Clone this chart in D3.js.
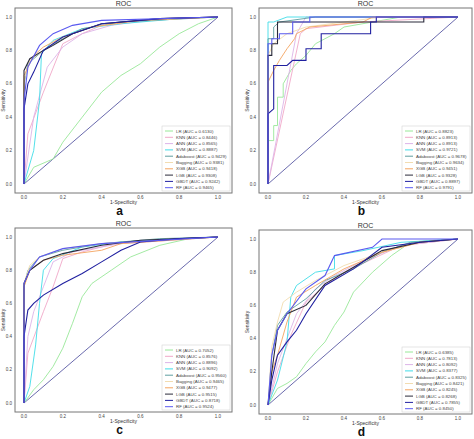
<!DOCTYPE html>
<html>
<head>
<meta charset="utf-8">
<script src="https://cdn.jsdelivr.net/npm/d3@7"></script>
<style>
  body { margin: 0; background: #fff; }
  text { font-family: "Liberation Sans", Arial, sans-serif; }
</style>
</head>
<body>
<svg id="chart" width="474" height="439"></svg>
<script>
const models = ['LR', 'KNN', 'ANN', 'SVM', 'Adaboost', 'Bagging', 'XGB', 'LGB', 'GBDT', 'RF'];
const colors = ['#98e898', '#f0a8c8', '#dcb4e8', '#40dce8', '#5f9ea0', '#f2dcb0', '#f4a460', '#2a2a3a', '#2020a0', '#5a5af0'];
const ticks = [0, 0.2, 0.4, 0.6, 0.8, 1.0];
const panelLetters = ['a', 'b', 'c', 'd'];

const aucA = [0.6130, 0.8446, 0.8565, 0.8887, 0.9429, 0.9381, 0.9418, 0.9308, 0.9242, 0.9465];
const aucB = [0.8823, 0.8913, 0.8913, 0.9721, 0.9678, 0.9634, 0.9451, 0.9328, 0.8897, 0.9791];
const aucC = [0.7052, 0.8576, 0.8896, 0.9092, 0.9560, 0.9465, 0.9477, 0.9515, 0.8718, 0.9524];
const aucD = [0.6385, 0.7813, 0.8092, 0.8377, 0.8325, 0.8421, 0.8245, 0.8268, 0.7855, 0.8450];

// [fpr, tpr] pairs per model
const rocA = [
  [[0,0],[0.05,0.1],[0.15,0.15],[0.2,0.25],[0.3,0.4],[0.4,0.55],[0.5,0.65],[0.6,0.72],[0.7,0.82],[0.8,0.9],[0.9,0.96],[1,1]],
  [[0,0],[0.02,0.3],[0.1,0.55],[0.2,0.84],[0.3,0.9],[0.4,0.95],[0.6,0.98],[1,1]],
  [[0,0],[0.05,0.4],[0.12,0.7],[0.2,0.82],[0.3,0.9],[0.45,0.95],[0.7,0.99],[1,1]],
  [[0,0],[0.05,0.2],[0.08,0.5],[0.09,0.78],[0.15,0.86],[0.3,0.93],[0.5,0.96],[0.8,0.99],[1,1]],
  [[0,0],[0,0.6],[0.02,0.72],[0.1,0.8],[0.2,0.87],[0.3,0.93],[0.5,0.97],[1,1]],
  [[0,0],[0,0.62],[0.03,0.74],[0.1,0.8],[0.2,0.88],[0.35,0.94],[0.6,0.98],[1,1]],
  [[0,0],[0,0.65],[0.05,0.77],[0.1,0.82],[0.2,0.88],[0.35,0.94],[0.6,0.98],[1,1]],
  [[0,0],[0,0.68],[0.03,0.75],[0.1,0.8],[0.15,0.83],[0.25,0.9],[0.4,0.96],[0.7,0.99],[1,1]],
  [[0,0],[0,0.45],[0.02,0.6],[0.05,0.67],[0.1,0.8],[0.2,0.88],[0.4,0.96],[0.7,0.99],[1,1]],
  [[0,0],[0,0.5],[0.02,0.7],[0.08,0.83],[0.15,0.9],[0.25,0.95],[0.4,0.98],[1,1]]
];
const rocB = [
  [[0,0],[0,0.26],[0.03,0.26],[0.03,0.35],[0.05,0.35],[0.05,0.52],[0.08,0.52],[0.08,0.6],[0.12,0.68],[0.15,0.72],[0.2,0.77],[0.25,0.84],[0.3,0.87],[0.35,0.9],[0.4,0.94],[0.55,0.97],[0.7,1],[1,1]],
  [[0,0],[0.17,0.9],[0.2,0.93],[0.5,0.97],[1,1]],
  [[0,0],[0.15,0.9],[0.2,1],[1,1]],
  [[0,0],[0,0.97],[0.03,0.97],[0.1,1],[1,1]],
  [[0,0],[0,0.87],[0.03,0.87],[0.03,0.94],[0.06,0.97],[0.25,1],[1,1]],
  [[0,0],[0,0.77],[0.03,0.84],[0.1,0.9],[0.2,0.94],[0.4,0.97],[0.6,1],[1,1]],
  [[0,0],[0,0.61],[0.03,0.68],[0.06,0.74],[0.1,0.81],[0.14,0.87],[0.15,0.9],[0.22,0.94],[0.5,0.97],[0.55,1],[1,1]],
  [[0,0],[0,0.77],[0.02,0.77],[0.02,0.84],[0.05,0.84],[0.05,0.97],[0.82,0.97],[0.82,1],[1,1]],
  [[0,0],[0,0.42],[0.03,0.45],[0.03,0.71],[0.1,0.71],[0.13,0.74],[0.2,0.74],[0.2,0.81],[0.28,0.81],[0.28,0.9],[0.54,0.9],[0.54,0.97],[0.57,0.97],[0.57,1],[1,1]],
  [[0,0],[0,0.84],[0.02,0.84],[0.02,0.87],[0.06,0.87],[0.06,0.9],[0.13,0.9],[0.13,0.97],[0.22,0.97],[0.22,1],[1,1]]
];
const rocC = [
  [[0,0],[0.05,0.08],[0.1,0.14],[0.15,0.22],[0.2,0.33],[0.25,0.48],[0.3,0.64],[0.35,0.72],[0.45,0.8],[0.55,0.88],[0.7,0.95],[0.85,0.99],[1,1]],
  [[0,0],[0.02,0.3],[0.1,0.55],[0.15,0.7],[0.2,0.87],[0.3,0.91],[0.5,0.97],[1,1]],
  [[0,0],[0.02,0.4],[0.05,0.55],[0.1,0.7],[0.15,0.85],[0.25,0.91],[0.5,0.96],[1,1]],
  [[0,0],[0.03,0.1],[0.06,0.35],[0.08,0.6],[0.1,0.8],[0.15,0.87],[0.3,0.94],[0.5,0.97],[1,1]],
  [[0,0],[0,0.7],[0.02,0.8],[0.08,0.88],[0.2,0.92],[0.4,0.96],[0.7,0.99],[1,1]],
  [[0,0],[0,0.72],[0.03,0.83],[0.08,0.88],[0.2,0.93],[0.4,0.96],[1,1]],
  [[0,0],[0,0.7],[0.03,0.8],[0.1,0.86],[0.2,0.89],[0.4,0.92],[0.5,0.96],[1,1]],
  [[0,0],[0,0.72],[0.03,0.8],[0.1,0.86],[0.2,0.9],[0.4,0.95],[0.6,0.98],[1,1]],
  [[0,0],[0,0.4],[0.02,0.56],[0.05,0.6],[0.1,0.65],[0.2,0.72],[0.3,0.78],[0.4,0.85],[0.5,0.92],[0.6,0.97],[0.8,0.99],[1,1]],
  [[0,0],[0,0.72],[0.03,0.8],[0.08,0.88],[0.2,0.93],[0.4,0.96],[1,1]]
];
const rocD = [
  [[0,0],[0.05,0.1],[0.1,0.13],[0.15,0.17],[0.2,0.25],[0.25,0.32],[0.3,0.38],[0.35,0.48],[0.4,0.56],[0.45,0.68],[0.55,0.8],[0.65,0.9],[0.75,0.98],[1,1]],
  [[0,0],[0.05,0.2],[0.12,0.42],[0.2,0.62],[0.3,0.72],[0.4,0.8],[0.55,0.88],[0.7,0.96],[1,1]],
  [[0,0],[0.05,0.25],[0.1,0.4],[0.15,0.55],[0.25,0.7],[0.35,0.78],[0.5,0.87],[0.7,0.96],[1,1]],
  [[0,0],[0.05,0.15],[0.1,0.38],[0.12,0.65],[0.15,0.72],[0.25,0.8],[0.35,0.82],[0.35,0.9],[0.5,0.93],[0.7,0.98],[1,1]],
  [[0,0],[0.02,0.3],[0.05,0.48],[0.1,0.56],[0.2,0.64],[0.3,0.75],[0.45,0.82],[0.6,0.92],[0.75,0.98],[1,1]],
  [[0,0],[0.02,0.35],[0.05,0.5],[0.08,0.62],[0.15,0.68],[0.25,0.75],[0.4,0.84],[0.6,0.92],[0.8,0.98],[1,1]],
  [[0,0],[0.02,0.2],[0.05,0.3],[0.1,0.5],[0.15,0.65],[0.25,0.72],[0.4,0.82],[0.6,0.92],[0.8,0.98],[1,1]],
  [[0,0],[0.02,0.2],[0.05,0.45],[0.1,0.55],[0.2,0.6],[0.3,0.73],[0.45,0.83],[0.6,0.93],[0.8,0.98],[1,1]],
  [[0,0],[0.02,0.15],[0.05,0.3],[0.1,0.38],[0.15,0.45],[0.2,0.55],[0.3,0.72],[0.45,0.82],[0.6,0.95],[0.8,0.98],[1,1]],
  [[0,0],[0.02,0.3],[0.05,0.45],[0.1,0.55],[0.2,0.7],[0.3,0.78],[0.35,0.9],[0.55,0.95],[0.6,1],[1,1]]
];

const panels = [
  { roc: rocA, auc: aucA, frame: [15, 8, 232, 193] },
  { roc: rocB, auc: aucB, frame: [259, 8, 472, 193] },
  { roc: rocC, auc: aucC, frame: [15, 228, 232, 412] },
  { roc: rocD, auc: aucD, frame: [259, 230, 472, 414] }
];

const svg = d3.select('#chart');

panels.forEach((p, pi) => {
  const [fl, ft, fr, fb] = p.frame;
  const x = d3.scaleLinear().domain([0, 1]).range([fl + 9, fr - 14]);
  const y = d3.scaleLinear().domain([0, 1]).range([fb - 9, ft + 9]);
  const g = svg.append('g');

  g.append('rect')
    .attr('x', fl).attr('y', ft)
    .attr('width', fr - fl).attr('height', fb - ft)
    .attr('fill', 'none').attr('stroke', '#777').attr('stroke-width', 1);

  // diagonal reference
  g.append('line')
    .attr('x1', x(0)).attr('y1', y(0)).attr('x2', x(1)).attr('y2', y(1))
    .attr('stroke', '#2a2a8a').attr('stroke-width', 0.7);

  const line = d3.line().x(d => x(d[0])).y(d => y(d[1]));
  p.roc.forEach((pts, i) => {
    g.append('path')
      .attr('d', line(pts))
      .attr('fill', 'none')
      .attr('stroke', colors[i])
      .attr('stroke-width', i >= 7 ? 1.1 : 0.9);
  });

  ticks.forEach(t => {
    g.append('text')
      .attr('x', x(t)).attr('y', fb + 5.5)
      .attr('text-anchor', 'middle').attr('font-size', 4.5).attr('fill', '#444')
      .text(t.toFixed(1));
    g.append('text')
      .attr('x', fl - 3).attr('y', y(t) + 1.5)
      .attr('text-anchor', 'end').attr('font-size', 4.5).attr('fill', '#444')
      .text(t.toFixed(1));
  });

  g.append('text')
    .attr('x', (fl + fr) / 2).attr('y', ft - 2)
    .attr('text-anchor', 'middle').attr('font-size', 7).attr('fill', '#333')
    .text('ROC');
  g.append('text')
    .attr('x', (fl + fr) / 2).attr('y', fb + 11)
    .attr('text-anchor', 'middle').attr('font-size', 5).attr('fill', '#333')
    .text('1-Specificity');
  g.append('text')
    .attr('transform', `translate(${fl - 10},${(ft + fb) / 2}) rotate(-90)`)
    .attr('text-anchor', 'middle').attr('font-size', 5).attr('fill', '#333')
    .text('Sensitivity');
  g.append('text')
    .attr('x', (fl + fr) / 2 - 4).attr('y', fb + 22)
    .attr('text-anchor', 'middle').attr('font-size', 12).attr('font-weight', 'bold')
    .attr('font-family', 'DejaVu Serif, serif').attr('fill', '#111')
    .text(panelLetters[pi]);

  // legend
  const lw = 68, lh = 65;
  const lx = fr - lw - 2, ly = fb - lh - 2;
  g.append('rect')
    .attr('x', lx).attr('y', ly).attr('width', lw).attr('height', lh)
    .attr('fill', '#fff').attr('stroke', '#ccc').attr('stroke-width', 0.5);
  models.forEach((m, i) => {
    const yy = ly + 5 + i * 6.3;
    g.append('line')
      .attr('x1', lx + 3).attr('x2', lx + 11).attr('y1', yy).attr('y2', yy)
      .attr('stroke', colors[i]).attr('stroke-width', 1);
    g.append('text')
      .attr('x', lx + 14).attr('y', yy + 1.5)
      .attr('font-size', 4.4).attr('fill', '#444')
      .text(`${m}  (AUC = ${p.auc[i].toFixed(4)})`);
  });
});
</script>
</body>
</html>
